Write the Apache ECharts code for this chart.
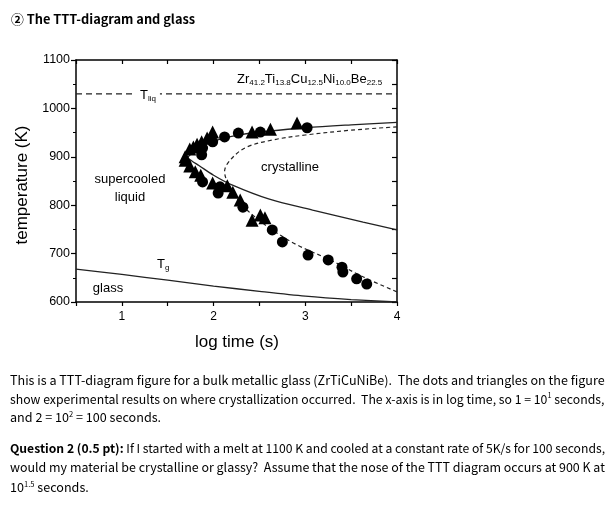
<!DOCTYPE html>
<html>
<head>
<meta charset="utf-8">
<script src="https://cdn.jsdelivr.net/npm/echarts@6/dist/echarts.min.js"></script>
<style>
    html, body { margin: 0; padding: 0; background: #fff; }
    #main { width: 615px; height: 516px; }
</style>
</head>
<body>
<div id="main"></div>
<script>
// x = log time (s), y = temperature (K)
let circles = [
    [3.02, 960], [2.51, 951], [2.27, 949], [2.12, 941], [1.99, 931], [1.88, 918], [1.87, 904],
    [1.88, 848], [2.07, 838], [2.05, 825], [2.32, 796], [2.64, 749], [2.75, 724], [3.03, 697],
    [3.25, 687], [3.40, 672], [3.41, 662], [3.56, 648], [3.67, 637]
];
let triangles = [
    [2.91, 970], [2.62, 957], [2.42, 951], [1.99, 951], [1.93, 939], [1.87, 931], [1.82, 926],
    [1.78, 920], [1.74, 916], [1.69, 900], [1.69, 893], [1.74, 881], [1.80, 869], [1.86, 862],
    [1.99, 846], [2.15, 840], [2.21, 827], [2.29, 811], [2.42, 769], [2.51, 780], [2.56, 774]
];
// crystallization onset (solid C curve), upper branch then lower branch
let tttCurve = [
    [4.0, 971], [3.5, 966], [3.0, 960], [2.6, 953], [2.3, 946], [2.1, 938], [1.95, 928],
    [1.83, 916], [1.75, 905], [1.72, 898], [1.76, 892], [1.84, 882], [2.0, 862], [2.2, 842],
    [2.6, 813], [3.08, 790], [3.63, 765], [4.0, 749]
];
// inner dashed curve
let dashCurve = [
    [4.0, 962], [3.5, 955], [3.0, 945], [2.65, 935], [2.36, 920], [2.2, 897], [2.12, 870],
    [2.15, 848], [2.25, 815], [2.4, 784], [2.64, 749], [2.91, 718], [3.27, 687], [3.63, 652],
    [4.0, 621]
];
let tgLine = [[0.5, 668], [1.0, 657], [1.5, 645], [2.0, 633], [2.5, 622], [3.0, 612], [3.5, 605], [4.0, 600]];
let tliq = 1030;
let xRange = [0.5, 4];
let yRange = [600, 1100];

// text segments: p = plain, b = bold, u = superscript; last flag = justified line
let bodyLines = [
    [[['p', 'This is a TTT-diagram figure for a bulk metallic glass (ZrTiCuNiBe).  The dots and triangles on the figure']], true],
    [[['p', 'show experimental results on where crystallization occurred.  The x-axis is in log time, so 1 = 10'], ['u', '1'], ['p', ' seconds,']], true],
    [[['p', 'and 2 = 10'], ['u', '2'], ['p', ' = 100 seconds.']], false],
    [[['b', 'Question 2 (0.5 pt):'], ['p', ' If I started with a melt at 1100 K and cooled at a constant rate of 5K/s for 100 seconds,']], true],
    [[['p', 'would my material be crystalline or glassy?  Assume that the nose of the TTT diagram occurs at 900 K at']], true],
    [[['p', '10'], ['u', '1.5'], ['p', ' seconds.']], false]
];
let bodyTops = [374, 392, 410, 442, 461, 480];

let fontArial = "'Liberation Sans', Arial, sans-serif";
let fontBody = "'Noto Sans CJK SC', 'Noto Sans', sans-serif";
let bodySize = 12.6;
let bodyWidth = 595;

let chart = echarts.init(document.getElementById('main'));

/**measure a line of segments at a font size*/
let measureCtx = document.createElement('canvas').getContext('2d');
function lineWidth(segs, size) {
    let w = 0;
    for (let i = 0; i < segs.length; i++) {
        let s = segs[i];
        let f = s[0] == 'b' ? 'bold ' + size + 'px ' : (s[0] == 'u' ? (size * 0.6) + 'px ' : size + 'px ');
        measureCtx.font = f + fontBody;
        w += measureCtx.measureText(s[1]).width;
    }
    return w;
}

let bodyText = [];
for (let i = 0; i < bodyLines.length; i++) {
    let segs = bodyLines[i][0];
    let size = bodySize;
    if (bodyLines[i][1]) {
        size = Math.min(bodySize * bodyWidth / lineWidth(segs, bodySize), 13.2);
    }
    let text = segs.map(function (s) { return '{' + s[0] + '|' + s[1] + '}'; }).join('');
    bodyText.push({
        type: 'text', left: 10, top: bodyTops[i],
        style: {
            text: text,
            rich: {
                p: { fontFamily: fontBody, fontSize: size, fill: '#000' },
                b: { fontFamily: fontBody, fontSize: size, fontWeight: 'bold', fill: '#000' },
                u: { fontFamily: fontBody, fontSize: size * 0.6, fill: '#000', padding: [0, 0, 7, 0] }
            }
        }
    });
}

let subRich = {
    m: { fontFamily: fontArial, fontSize: 13, fill: '#000' },
    s: { fontFamily: fontArial, fontSize: 8, fill: '#000', padding: [7, 0, 0, 0] }
};

let option = {
    backgroundColor: '#fff',
    animation: false,
    grid: { left: 76, right: 218, top: 60, bottom: 214 },
    xAxis: [{
        type: 'value', position: 'bottom', min: xRange[0], max: xRange[1], interval: 0.5,
        axisLine: { lineStyle: { color: '#000', width: 1.5 } },
        axisTick: { inside: false, length: 4, lineStyle: { color: '#000', width: 1.2 } },
        axisLabel: {
            color: '#000', fontSize: 12, fontFamily: fontArial, margin: 9,
            formatter: function (v) { return Number.isInteger(v) ? String(v) : ''; }
        },
        splitLine: { show: false }
    }, {
        type: 'value', position: 'top', min: xRange[0], max: xRange[1], interval: 0.5,
        axisLine: { lineStyle: { color: '#000', width: 1.5 } },
        axisTick: { inside: true, length: 4, lineStyle: { color: '#000', width: 1.2 } },
        axisLabel: { show: false },
        splitLine: { show: false }
    }],
    yAxis: [{
        type: 'value', position: 'left', min: yRange[0], max: yRange[1], interval: 100,
        axisLine: { show: true, lineStyle: { color: '#000', width: 1.5 } },
        axisTick: { show: true, length: 5, lineStyle: { color: '#000', width: 1.2 } },
        minorTick: { show: true, splitNumber: 2, length: 3, lineStyle: { color: '#000', width: 1 } },
        axisLabel: {
            color: '#000', fontSize: 12.5, fontFamily: fontArial, margin: 6,
            formatter: function (v) { return String(v); }
        },
        splitLine: { show: false }
    }, {
        type: 'value', position: 'right', min: yRange[0], max: yRange[1], interval: 50,
        axisLine: { show: true, lineStyle: { color: '#000', width: 1.5 } },
        axisTick: { show: true, inside: true, length: 5, lineStyle: { color: '#000', width: 1.2 } },
        axisLabel: { show: false },
        splitLine: { show: false }
    }],
    series: [{
        name: 'Tg', type: 'line', data: tgLine, showSymbol: false, smooth: 0.3,
        lineStyle: { color: '#222', width: 1.3 }, z: 2
    }, {
        name: 'Tliq', type: 'line', data: [[xRange[0], tliq], [xRange[1], tliq]], showSymbol: false,
        lineStyle: { color: '#222', width: 1.3, type: [6, 4] }, z: 2
    }, {
        name: 'onset', type: 'line', data: tttCurve, showSymbol: false, smooth: 0.35,
        lineStyle: { color: '#222', width: 1.3 }, z: 2
    }, {
        name: 'inner', type: 'line', data: dashCurve, showSymbol: false, smooth: 0.35,
        lineStyle: { color: '#222', width: 1.2, type: [4, 3] }, z: 2
    }, {
        name: 'circles', type: 'scatter', data: circles, symbol: 'circle', symbolSize: 11,
        itemStyle: { color: '#000', opacity: 1 }, z: 4
    }, {
        name: 'triangles', type: 'scatter', data: triangles, symbol: 'triangle', symbolSize: 13,
        itemStyle: { color: '#000', opacity: 1 }, z: 4
    }],
    graphic: [{
        type: 'text', left: 11, top: 13,
        style: { text: '\u2461 The TTT-diagram and glass', font: 'bold 12.8px ' + fontBody, fill: '#000' }
    }, {
        type: 'text', x: 22, y: 185, rotation: Math.PI / 2,
        style: { text: 'temperature (K)', font: '17px ' + fontArial, fill: '#000', align: 'center', verticalAlign: 'middle' }
    }, {
        type: 'text', x: 237, y: 342,
        style: { text: 'log time (s)', font: '17px ' + fontArial, fill: '#000', align: 'center', verticalAlign: 'middle' }
    }, {
        type: 'text', x: 237, y: 72, z: 10,
        style: { text: '{m|Zr}{s|41.2}{m|Ti}{s|13.8}{m|Cu}{s|12.5}{m|Ni}{s|10.0}{m|Be}{s|22.5}', rich: subRich }
    }, {
        type: 'text', x: 136, y: 88, z: 10,
        style: { text: '{m|T}{s|liq}', backgroundColor: '#fff', padding: [0, 4, 0, 4], rich: subRich }
    }, {
        type: 'text', x: 157, y: 257, z: 10,
        style: { text: '{m|T}{s|g}', rich: subRich }
    }, {
        type: 'text', x: 130, y: 179,
        style: { text: 'supercooled', font: '13px ' + fontArial, fill: '#000', align: 'center', verticalAlign: 'middle' }
    }, {
        type: 'text', x: 130, y: 197,
        style: { text: 'liquid', font: '13px ' + fontArial, fill: '#000', align: 'center', verticalAlign: 'middle' }
    }, {
        type: 'text', x: 290, y: 167,
        style: { text: 'crystalline', font: '13px ' + fontArial, fill: '#000', align: 'center', verticalAlign: 'middle' }
    }, {
        type: 'text', x: 108, y: 288,
        style: { text: 'glass', font: '13px ' + fontArial, fill: '#000', align: 'center', verticalAlign: 'middle' }
    }].concat(bodyText)
};
chart.setOption(option);
</script>
</body>
</html>
